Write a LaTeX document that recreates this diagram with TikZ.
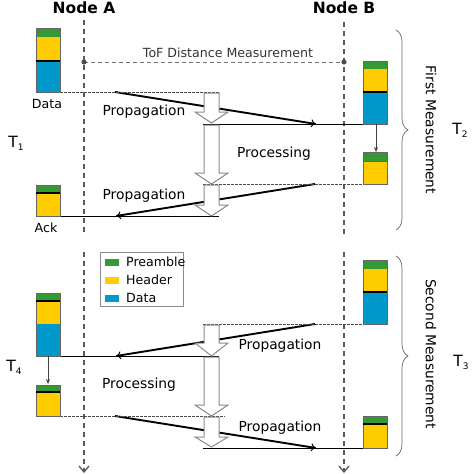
\documentclass[tikz,border=0pt]{standalone}
\usepackage{fontspec}
\setmainfont{DejaVu Sans}
\usetikzlibrary{arrows.meta,decorations.pathreplacing}
\definecolor{pgreen}{RGB}{52,152,52}
\definecolor{pyellow}{RGB}{255,204,0}
\definecolor{pblue}{RGB}{0,153,204}
\definecolor{lgray}{RGB}{90,90,90}
\newcommand{\seg}[4]{\fill[#1] (#2,#3) rectangle (#2+24,#4);}
\newcommand{\divl}[2]{\draw[line width=2pt,black] (#1,#2) -- (#1+24,#2);}
\newcommand{\pbox}[3]{\draw[black!60,line width=0.5pt] (#1,#2) rectangle (#1+24,#3);}
\newcommand{\harrow}[3]{\draw[black!45,fill=white,line width=1pt] (204,#1) -- (219,#1) -- (219,#2) -- (228,#2) -- (211.5,#3) -- (195,#2) -- (204,#2) -- cycle;}
\newcommand{\Tsub}[1]{T\raisebox{-0.35ex}{\fontsize{9}{10}\selectfont #1}}
\begin{document}
\begin{tikzpicture}[x=1pt,y=-1pt,
  lbl/.style={font=\fontsize{13.8}{16}\selectfont},
  sml/.style={font=\fontsize{12.6}{15}\selectfont},
  tlbl/.style={font=\fontsize{15.5}{17}\selectfont},
  ttl/.style={font=\fontsize{15.5}{18}\selectfont\bfseries},
  lifeline/.style={lgray,line width=1.5pt,dash pattern=on 5pt off 4pt},
  dotl/.style={black!70,line width=0.7pt,dash pattern=on 2.5pt off 1.5pt},
  prop/.style={black,line width=1.9pt,-{To[length=5pt,width=8pt,line width=1pt]}},
  hline/.style={black,line width=1pt},
  small arrow/.style={black!75,line width=0.8pt,-{Stealth[length=5pt,width=4pt]}},
  brc/.style={black!60,line width=0.7pt,decorate,decoration={brace,amplitude=12pt}}]
\useasboundingbox (0,0) rectangle (474,474);
% titles
\node[ttl] (nA) at (84,8) {Node A};
\node[ttl] (nB) at (344,8) {Node B};
% lifelines
\coordinate (a1) at (84,20); \coordinate (a2) at (84,235);
\coordinate (a3) at (84,252); \coordinate (a4) at (84,473);
\coordinate (b1) at (344,22); \coordinate (b2) at (344,234);
\coordinate (b3) at (344,252); \coordinate (b4) at (344,473);
\draw[lifeline] (a1) -- (a2);
\draw[lifeline,-{Straight Barb[length=6pt,width=10pt,line width=1.3pt]}] (a3) -- (a4);
\draw[lifeline] (b1) -- (b2);
\draw[lifeline,-{Straight Barb[length=6pt,width=10pt,line width=1.3pt]}] (b3) -- (b4);
% ToF
\coordinate (tofA) at (84,62); \coordinate (tofB) at (344,62);
\draw[black!55,line width=1pt,dash pattern=on 4pt off 3pt] (tofA) -- (tofB);
\fill[black!70] (tofA) circle (2.6pt);
\fill[black!70] (tofB) circle (2.6pt);
\node[sml,black!80] (tof) at (228,53) {ToF Distance Measurement};
% ---------- First measurement ----------
\coordinate (p1s) at (115,92); \coordinate (p1e) at (316,124);
\coordinate (p2s) at (315,184); \coordinate (p2e) at (116,216);
\draw[prop] (p1s) -- (p1e);
\draw[prop] (p2s) -- (p2e);
\coordinate (d1s) at (60,92); \coordinate (d1e) at (219,92);
\draw[dotl] (d1s) -- (d1e);
\coordinate (d2s) at (203,184); \coordinate (d2e) at (363,184);
\draw[dotl] (d2s) -- (d2e);
\coordinate (h1s) at (203,124); \coordinate (h1e) at (363,124);
\draw[hline] (h1s) -- (h1e);
\coordinate (h2s) at (60,216); \coordinate (h2e) at (219,216);
\draw[hline] (h2s) -- (h2e);
\harrow{93}{112}{123}
\harrow{125}{173}{184}
\harrow{185}{205}{216}
\seg{pgreen}{36}{28}{37}\seg{pyellow}{36}{37}{61}\seg{pblue}{36}{61}{92}\pbox{36}{28}{92}\divl{36}{61}
\seg{pgreen}{363}{61}{69}\seg{pyellow}{363}{69}{92}\seg{pblue}{363}{92}{124}\pbox{363}{61}{124}\divl{363}{92}
\seg{pgreen}{363}{152}{161}\seg{pyellow}{363}{161}{184}\pbox{363}{152}{184}\draw[black!60,line width=0.7pt] (363,161) -- (387,161);
\seg{pgreen}{36}{185}{192}\seg{pyellow}{36}{192}{216}\pbox{36}{185}{216}\divl{36}{192.5}
\coordinate (sa1) at (376,124); \coordinate (sa2) at (376,152);
\draw[small arrow] (sa1) -- (sa2);
\node[sml] (data1) at (47,104) {Data};
\node[sml] (ack1) at (46,228) {Ack};
\node[lbl] (pr1) at (144,112) {Propagation};
\node[lbl] (proc1) at (274,154) {Processing};
\node[lbl] (pr2) at (144,196) {Propagation};
\node[tlbl] (t1) at (16,143) {\Tsub{1}};
\node[tlbl] (t2) at (460,130) {\Tsub{2}};
\coordinate (br1a) at (396,30); \coordinate (br1b) at (396,230);
\draw[brc] (br1a) -- (br1b);
\node[lbl,rotate=-90] (fm) at (431,130) {First Measurement};
% ---------- Legend ----------
\node[draw=black!45,line width=0.8pt,minimum width=83pt,minimum height=54pt,inner sep=0pt] (leg) at (141.5,279) {};
\fill[pgreen] (105,259) rectangle (119,266);
\fill[pyellow] (105,277) rectangle (119,284);
\fill[pblue] (105,295) rectangle (119,302);
\node[sml,anchor=west,inner sep=0pt] (lg1) at (126,262) {Preamble};
\node[sml,anchor=west,inner sep=0pt] (lg2) at (126,280) {Header};
\node[sml,anchor=west,inner sep=0pt] (lg3) at (126,298) {Data};
% ---------- Second measurement ----------
\coordinate (p3s) at (315,324); \coordinate (p3e) at (116,356);
\coordinate (p4s) at (115,416); \coordinate (p4e) at (316,448);
\draw[prop] (p3s) -- (p3e);
\draw[prop] (p4s) -- (p4e);
\coordinate (d3s) at (203,324); \coordinate (d3e) at (363,324);
\draw[dotl] (d3s) -- (d3e);
\coordinate (d4s) at (60,416); \coordinate (d4e) at (225,416);
\draw[dotl] (d4s) -- (d4e);
\coordinate (h3s) at (60,356); \coordinate (h3e) at (219,356);
\draw[hline] (h3s) -- (h3e);
\coordinate (h4s) at (203,448); \coordinate (h4e) at (363,448);
\draw[hline] (h4s) -- (h4e);
\harrow{325}{343}{356}
\harrow{357}{405}{416}
\harrow{417}{437}{447}
\seg{pgreen}{363}{260}{269}\seg{pyellow}{363}{269}{292}\seg{pblue}{363}{292}{324}\pbox{363}{260}{324}\divl{363}{292}
\seg{pgreen}{36}{293}{300}\seg{pyellow}{36}{300}{324}\seg{pblue}{36}{324}{356}\pbox{36}{293}{356}\divl{36}{301}
\seg{pgreen}{36}{385}{391}\seg{pyellow}{36}{391}{416}\pbox{36}{385}{416}\divl{36}{392}
\seg{pgreen}{363}{416}{423}\seg{pyellow}{363}{423}{448}\pbox{363}{416}{448}\divl{363}{424}
\coordinate (sb1) at (48,356); \coordinate (sb2) at (48,384);
\draw[small arrow] (sb1) -- (sb2);
\node[lbl] (pr3) at (280,346) {Propagation};
\node[lbl] (proc2) at (139,385) {Processing};
\node[lbl] (pr4) at (280,428) {Propagation};
\node[tlbl] (t4) at (14,367) {\Tsub{4}};
\node[tlbl] (t3) at (461,362) {\Tsub{3}};
\coordinate (br2a) at (396,256); \coordinate (br2b) at (396,456);
\draw[brc] (br2a) -- (br2b);
\node[lbl,rotate=-90] (sm) at (431,354) {Second Measurement};
\end{tikzpicture}
\end{document}
